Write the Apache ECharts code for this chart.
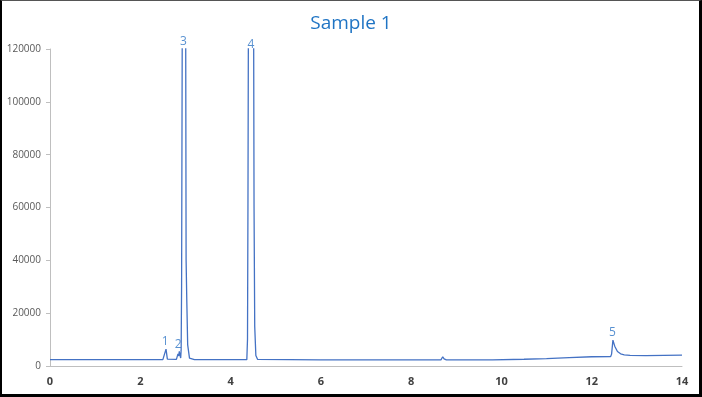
<!DOCTYPE html>
<html>
<head>
<meta charset="utf-8">
<script src="https://cdn.jsdelivr.net/npm/echarts@6/dist/echarts.min.js"></script>
<style>
html,body{margin:0;padding:0;background:#fff;}
#wrap{position:relative;width:702px;height:397px;}
#chart{position:absolute;left:0;top:0;width:702px;height:397px;}
#frame{position:absolute;left:0;top:0;width:702px;height:397px;box-sizing:border-box;
  border-left:2px solid #000;border-right:3px solid #000;border-bottom:3px solid #000;border-top:1px solid #555;pointer-events:none;}
</style>
</head>
<body>
<div id="wrap"><div id="chart"></div><div id="frame"></div></div>
<script>
// Retention time (min) and detector signal
const time = [0, 1.0, 2.0, 2.50, 2.54, 2.57, 2.60, 2.64, 2.80, 2.835, 2.85, 2.865, 2.88, 2.895, 2.905,
  2.915, 2.93, 2.97, 3.005, 3.015, 3.03, 3.05, 3.09, 3.13, 3.2, 4.0, 4.36, 4.375, 4.385, 4.395,
  4.45, 4.51, 4.52, 4.535, 4.56, 4.60, 6.0, 8.0, 8.66, 8.70, 8.73, 8.78, 9.8, 10.5, 11.0,
  11.5, 12.0, 12.42, 12.44, 12.47, 12.51, 12.57, 12.64, 12.72, 12.85, 13.2, 14.0];
const signal = [2400, 2400, 2400, 2400, 2500, 6400, 2600, 2400, 2500, 4600, 3800, 5500, 4000, 3000, 6000,
  30000, 130000, 160000, 135000, 40000, 25000, 8000, 3000, 2500, 2400, 2400, 2400, 10000, 60000, 130000,
  160000, 135000, 60000, 15000, 4000, 2500, 2350, 2300, 2300, 3500, 2700, 2300, 2300, 2550, 2800,
  3200, 3500, 3600, 4500, 9800, 7500, 5500, 4600, 4200, 4000, 3950, 4100];
// Peak labels
const peakNames = ['1', '2', '3', '4', '5'];
const peakTimes = [2.55, 2.84, 2.955, 4.45, 12.46];
const peakLabelY = [6600, 5300, 120000, 119000, 9800];
const xTicks = [0, 14, 2];
const yTicks = [0, 120000, 20000];

const lineData = time.map((t, i) => [t, signal[i]]);
const peakData = peakNames.map((n, i) => ({ value: [peakTimes[i], peakLabelY[i]], name: n }));

const chart = echarts.init(document.getElementById('chart'), null, { renderer: 'canvas' });
chart.setOption({
  animation: false,
  backgroundColor: '#fff',
  title: {
    text: 'Sample 1', left: 'center', top: 9,
    textStyle: { color: '#1F74C4', fontSize: 19, fontWeight: 'normal', fontFamily: 'Open Sans' }
  },
  grid: { left: 50, right: 20, top: 49, bottom: 31 },
  xAxis: {
    type: 'value', min: xTicks[0], max: xTicks[1], interval: xTicks[2],
    axisLine: { lineStyle: { color: '#BFBFBF', width: 1 } },
    axisTick: { show: false },
    splitLine: { show: false },
    axisLabel: { color: '#404040', fontSize: 11, fontWeight: 'bold', margin: 10, fontFamily: 'Open Sans' }
  },
  yAxis: {
    type: 'value', min: yTicks[0], max: yTicks[1], interval: yTicks[2],
    axisLine: { show: true, lineStyle: { color: '#BFBFBF', width: 1 } },
    axisTick: { show: true, length: 4, lineStyle: { color: '#BFBFBF' } },
    splitLine: { show: false },
    axisLabel: { color: '#595959', fontSize: 10, margin: 9, fontFamily: 'Open Sans', formatter: v => String(v) }
  },
  series: [
    {
      type: 'line', data: lineData, showSymbol: false, symbol: 'none', clip: true,
      lineStyle: { color: '#4472C4', width: 1.3 }
    },
    {
      type: 'scatter', data: peakData, symbolSize: 0.1, clip: false,
      itemStyle: { color: 'rgba(0,0,0,0)' },
      label: {
        show: true, position: 'top', distance: 1, formatter: p => p.name,
        color: '#2E75C6', fontSize: 12, fontFamily: 'Open Sans'
      }
    }
  ]
});
</script>
</body>
</html>
